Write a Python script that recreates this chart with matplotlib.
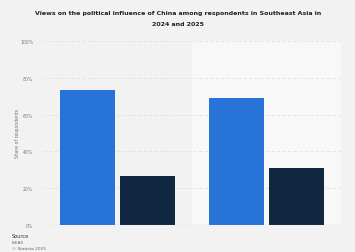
import numpy as np
import matplotlib.pyplot as plt

# values
years = ["2024", "2025"]
series_a = [73.3, 68.8]
series_b = [26.7, 31.2]
yticks = [0, 20, 40, 60, 80, 100]
ytick_labels = ["0%", "20%", "40%", "60%", "80%", "100%"]

BG = "#f2f2f2"
BAND = "#f8f8f8"
BLUE = "#2873d8"
NAVY = "#0f2840"

W, H = 355, 253
fig = plt.figure(figsize=(W / 100, H / 100), dpi=100, facecolor=BG)
ax = fig.add_axes([43 / W, 1 - 226 / H, 298 / W, 184 / H])
ax.set_facecolor(BG)

x = np.arange(len(years))
ax.axvspan(0.5, 1.5, color=BAND, zorder=0)

width = 0.373
off = 0.2
ax.bar(x - off, series_a, width, color=BLUE, zorder=3)
ax.bar(x + off, series_b, width, color=NAVY, zorder=3)

ax.set_xlim(-0.5, 1.5)
ax.set_ylim(0, 100)
ax.set_yticks(yticks)
ax.set_yticklabels(ytick_labels, fontsize=3.3, color="#777777")
ax.set_xticks([])
ax.tick_params(axis="y", length=0, pad=7)
for t in yticks[1:]:
    ax.axhline(t, color="#dddddd", lw=0.5, ls=(0, (5, 3)), zorder=1)
ax.axhline(0, color="#aaaaaa", lw=0.8, zorder=4)
for s in ax.spines.values():
    s.set_visible(False)

fig.text(18 / W, 1 - 134 / H, "Share of respondents", rotation=90,
         ha="center", va="center", fontsize=3.3, color="#777777")

fig.text(178 / W, 1 - 13 / H,
         "Views on the political influence of China among respondents in Southeast Asia in",
         ha="center", va="center", fontsize=4.5, fontweight="bold", color="#222222")
fig.text(178 / W, 1 - 24 / H, "2024 and 2025",
         ha="center", va="center", fontsize=4.5, fontweight="bold", color="#222222")

fig.text(12 / W, 1 - 236 / H, "Source", ha="left", va="center", fontsize=3.6, color="#333333")
fig.text(12 / W, 1 - 243 / H, "ISEAS", ha="left", va="center", fontsize=3.1, color="#666666")
fig.text(12 / W, 1 - 249.5 / H, "\u00a9 Statista 2025", ha="left", va="center",
         fontsize=3.1, color="#666666")

fig.savefig("out.png", dpi=100, facecolor=BG)
